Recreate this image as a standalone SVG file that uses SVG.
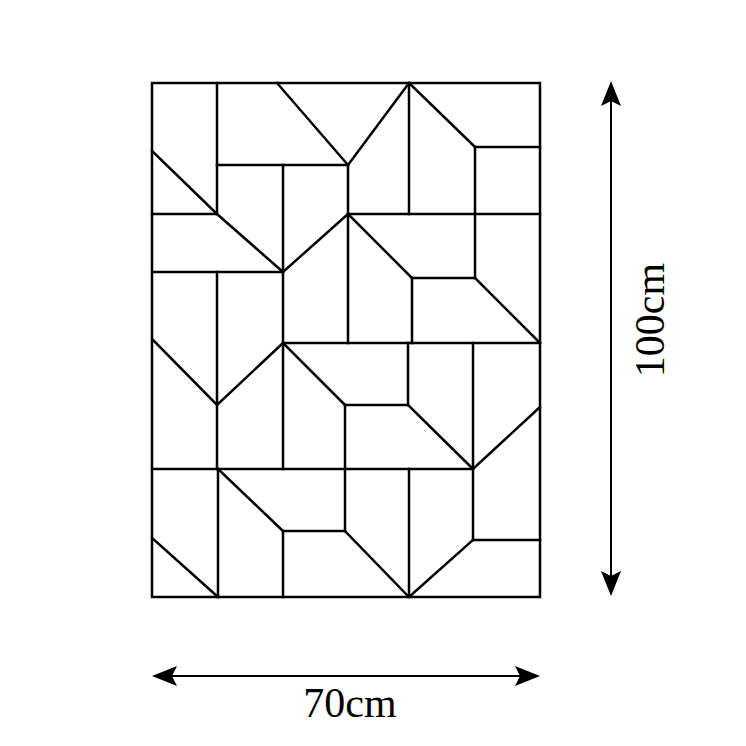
<svg xmlns="http://www.w3.org/2000/svg" width="746" height="746" viewBox="0 0 746 746">
  <style>
    .ln { fill: none; stroke: #000; stroke-width: 2.5; stroke-linejoin: miter; stroke-linecap: square; }
    .dim { fill: none; stroke: #000; stroke-width: 2; }
    .lbl { font-family: "Liberation Serif", "Times New Roman", serif; font-size: 42px; fill: #000; text-anchor: middle; }
  </style>
  <defs>
    <marker id="ah" markerUnits="userSpaceOnUse" markerWidth="30" markerHeight="24" refX="0" refY="10" orient="auto-start-reverse" overflow="visible">
      <path d="M20,10 L-5,0 L0,10 L-5,20 Z" fill="#000"/>
    </marker>
  </defs>
  <rect width="746" height="746" fill="#fff"/>
  <g id="panel">
    <rect id="frame" class="ln" x="152" y="83" width="388" height="514"/>
    <g id="verticals">
      <path class="ln" d="M217,83V214 M217,272V469 M218,469V597 M283,165V469 M283,531V597 M348,165V343 M345,405V531 M409,83V214 M408,343V405 M409,469V597 M475,147V278 M473,343V540 M412,278V343"/>
    </g>
    <g id="horizontals">
      <path class="ln" d="M152,214H217 M152,272H283 M217,165H348 M475,147H540 M348,214H540 M412,278H475 M283,343H540 M345,405H408 M152,469H473 M283,531H345 M473,540H540"/>
    </g>
    <g id="diagonals">
      <path class="ln" d="M152,151L217,214L283,272 M277,83L348,165 M348,165L409,83 M409,83L475,147 M283,272L348,214 M348,214L412,278 M475,278L540,343 M152,339L217,405L283,343 M283,343L345,405 M408,405L473,469 M473,469L540,407 M152,538L218,597 M218,469L283,531 M345,531L409,597L473,540"/>
    </g>
  </g>
  <g id="dimensions">
    <line id="dim-width" class="dim" x1="172" y1="676" x2="520" y2="676" marker-start="url(#ah)" marker-end="url(#ah)"/>
    <line id="dim-height" class="dim" x1="611" y1="101" x2="611" y2="576" marker-start="url(#ah)" marker-end="url(#ah)"/>
    <text id="label-width" class="lbl" x="350" y="717">70cm</text>
    <text id="label-height" class="lbl" transform="translate(664,320) rotate(-90)">100cm</text>
  </g>
</svg>
